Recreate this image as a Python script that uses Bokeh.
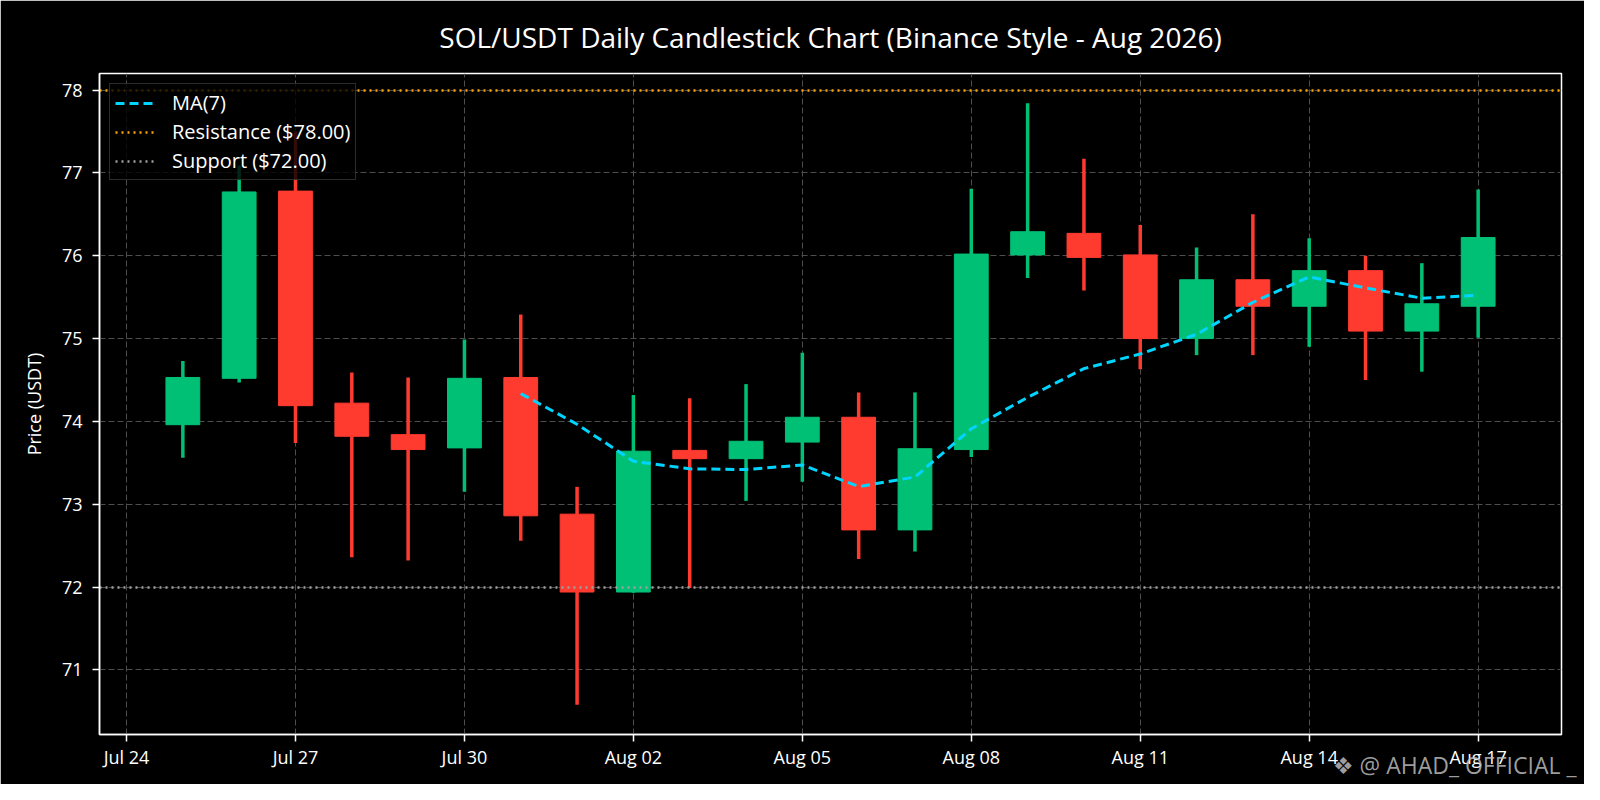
import pandas as pd
from bokeh.plotting import figure
from bokeh.models import (Range1d, FixedTicker, Legend, LegendItem, ColumnDataSource,
                          DatetimeTickFormatter, Title)
from bokeh.embed import file_html
from bokeh.resources import INLINE

# ---------------- data ----------------
dates = ["2026-07-25", "2026-07-26", "2026-07-27", "2026-07-28", "2026-07-29", "2026-07-30",
         "2026-07-31", "2026-08-01", "2026-08-02", "2026-08-03", "2026-08-04", "2026-08-05",
         "2026-08-06", "2026-08-07", "2026-08-08", "2026-08-09", "2026-08-10", "2026-08-11",
         "2026-08-12", "2026-08-13", "2026-08-14", "2026-08-15", "2026-08-16", "2026-08-17"]
opens = [73.96, 74.52, 76.78, 74.22, 73.84, 73.68, 74.53, 72.88, 71.94, 73.65, 73.55, 73.75,
         74.05, 72.69, 73.66, 76.01, 76.27, 76.01, 75.00, 75.71, 75.39, 75.82, 75.09, 75.39]
closes = [74.53, 76.77, 74.19, 73.82, 73.66, 74.52, 72.86, 71.94, 73.64, 73.55, 73.76, 74.05,
          72.69, 73.67, 76.02, 76.29, 75.98, 75.00, 75.71, 75.39, 75.82, 75.09, 75.42, 76.22]
highs = [74.73, 77.09, 77.50, 74.59, 74.53, 74.99, 75.29, 73.21, 74.32, 74.28, 74.45, 74.83,
         74.35, 74.35, 76.81, 77.84, 77.17, 76.37, 76.10, 76.50, 76.21, 76.00, 75.91, 76.80]
lows = [73.56, 74.47, 73.74, 72.36, 72.32, 73.15, 72.56, 70.58, 71.93, 71.99, 73.04, 73.27,
        72.34, 72.43, 73.57, 75.73, 75.58, 74.63, 74.80, 74.80, 74.90, 74.50, 74.60, 75.01]
resistance = 78.00
support = 72.00
ma_window = 7
x_tick_dates = ["2026-07-24", "2026-07-27", "2026-07-30", "2026-08-02", "2026-08-05",
                "2026-08-08", "2026-08-11", "2026-08-14", "2026-08-17"]
y_ticks = [71, 72, 73, 74, 75, 76, 77, 78]

FONT = "Open Sans"
GREEN = "#00C076"
RED = "#FF3B30"

df = pd.DataFrame({"date": pd.to_datetime(dates), "open": opens, "close": closes,
                   "high": highs, "low": lows})
df["ma"] = df["close"].rolling(ma_window).mean()
df["color"] = [GREEN if c >= o else RED for o, c in zip(df["open"], df["close"])]
df["top"] = df[["open", "close"]].max(axis=1)
df["bottom"] = df[["open", "close"]].min(axis=1)
src = ColumnDataSource(df)
ma_src = ColumnDataSource(df.dropna(subset=["ma"]))

DAY = 86400000
t0 = pd.Timestamp(dates[0]).value // 10**6
t1 = pd.Timestamp(dates[-1]).value // 10**6

p = figure(width=1584, height=784, x_axis_type="datetime", output_backend="svg",
           toolbar_location=None, tools="",
           x_range=Range1d(t0 - 1.48 * DAY, t1 + 1.48 * DAY),
           y_range=Range1d(70.22, 78.20),
           min_border_left=99, min_border_right=23, min_border_top=73, min_border_bottom=50)

p.background_fill_color = "black"
p.border_fill_color = "black"
p.outline_line_color = "white"
p.outline_line_width = 1.5
p.outline_line_alpha = 1.0

# title
p.title.text = "SOL/USDT Daily Candlestick Chart (Binance Style - Aug 2026)"
p.title.align = "center"
p.title.vertical_align = "top"
p.title.standoff = 32
p.title.text_color = "white"
p.title.text_font = FONT
p.title.text_font_size = "28px"
p.title.text_font_style = "normal"

# grid
for g in (p.xgrid, p.ygrid):
    g.grid_line_color = "#4d4d4d"
    g.grid_line_dash = "6 3"
    g.grid_line_width = 1

# axes
p.xaxis.ticker = FixedTicker(ticks=[pd.Timestamp(d).value // 10**6 for d in x_tick_dates])
p.xaxis.formatter = DatetimeTickFormatter(days="%b %d", months="%b %d")
p.yaxis.ticker = FixedTicker(ticks=y_ticks)
for ax in (p.xaxis, p.yaxis):
    ax.axis_line_color = "white"
    ax.axis_line_width = 1.5
    ax.major_tick_line_color = "white"
    ax.major_tick_line_width = 1.5
    ax.major_tick_out = 7
    ax.major_tick_in = 0
    ax.minor_tick_line_color = None
    ax.major_label_text_color = "white"
    ax.major_label_text_font = FONT
    ax.major_label_text_font_size = "18px"
    ax.axis_label_text_color = "white"
    ax.axis_label_text_font = FONT
    ax.axis_label_text_font_style = "normal"
    ax.axis_label_text_font_size = "18px"
p.yaxis.axis_label = "Price (USDT)"
p.yaxis.major_label_standoff = 10
p.yaxis.axis_label_standoff = 13
p.xaxis.major_label_standoff = 3

# candles
p.segment(x0="date", y0="low", x1="date", y1="high", source=src, line_color="color", line_width=3.5)
p.vbar(x="date", width=0.6 * DAY, top="top", bottom="bottom", source=src,
       fill_color="color", line_color="color", line_width=1)

# MA line
ma_r = p.line(x="date", y="ma", source=ma_src, line_color="#00D4FF", line_width=3, line_dash="9 5")

# support / resistance
res_r = p.hspan(y=[resistance], line_color="#FFA500", line_width=2.5, line_dash="2 4")
sup_r = p.hspan(y=[support], line_color="#A0A0A0", line_width=2.5, line_dash="2 4")

legend = Legend(items=[LegendItem(label="MA(7)", renderers=[ma_r]),
                       LegendItem(label="Resistance ($78.00)", renderers=[res_r]),
                       LegendItem(label="Support ($72.00)", renderers=[sup_r])],
                location="top_left")
legend.background_fill_color = "black"
legend.background_fill_alpha = 0.8
legend.border_line_color = "#555555"
legend.border_line_width = 1.5
legend.label_text_color = "white"
legend.label_text_font = FONT
legend.label_text_font_size = "20px"
legend.glyph_width = 40
legend.glyph_height = 20
legend.label_standoff = 17
legend.spacing = 2
legend.padding = 5
legend.margin = 10
p.add_layout(legend)

# watermark below the x axis, pulled up over the tick labels
wm = Title(text="\u2756 @ AHAD_ OFFICIAL _", align="right", vertical_align="top",
           offset=-15, standoff=-46,
           text_color="#bbbbbb", text_alpha=0.85, text_font=FONT, text_font_size="23px",
           text_font_style="normal")
p.add_layout(wm, "below")

open("out.html", "w").write(file_html(p, INLINE))
